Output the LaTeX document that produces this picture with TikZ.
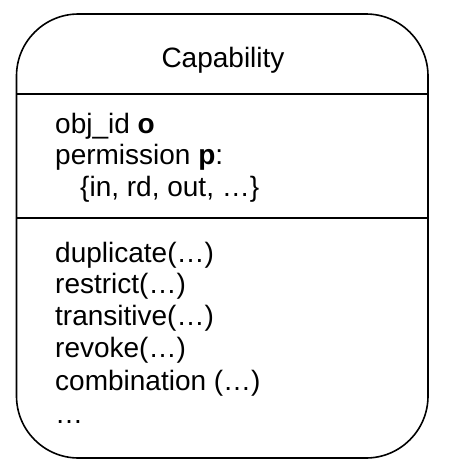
\documentclass[tikz,border=0pt]{standalone}
\usepackage{fontspec}
\setmainfont{Liberation Sans}
\begin{document}
\begin{tikzpicture}[x=1pt,y=-1pt,
  txt/.style={anchor=base west, inner sep=0pt, font=\fontsize{28}{32}\selectfont},
  ttl/.style={anchor=base, inner sep=0pt, font=\fontsize{28}{32}\selectfont},
  frame/.style={draw, line width=1.6pt, rounded corners=62pt, inner sep=0pt},
  sep/.style={line width=1.6pt}]
\useasboundingbox (0,0) rectangle (474,474);
\node[frame, minimum width=411.5pt, minimum height=444pt] (box) at (222.25,236) {};
\coordinate (d1l) at (16.5,94); \coordinate (d1r) at (428,94);
\coordinate (d2l) at (16.5,218); \coordinate (d2r) at (428,218);
\draw[sep] (d1l) -- (d1r);
\draw[sep] (d2l) -- (d2r);
\node[ttl] (title) at (223,67) {Capability};
\node[txt] (a1) at (55,133) {obj\_id \textbf{o}};
\node[txt] (a2) at (55,164.5) {permission \textbf{p}:};
\node[txt] (a3) at (80,196.5) {\{in, rd, out, …\}};
\node[txt] (m1) at (55,262) {duplicate(…)};
\node[txt] (m2) at (55,293.5) {restrict(…)};
\node[txt] (m3) at (55,325) {transitive(…)};
\node[txt] (m4) at (55,357) {revoke(…)};
\node[txt] (m5) at (55,390) {combination (…)};
\node[txt] (m6) at (55,423) {…};
\end{tikzpicture}
\end{document}
